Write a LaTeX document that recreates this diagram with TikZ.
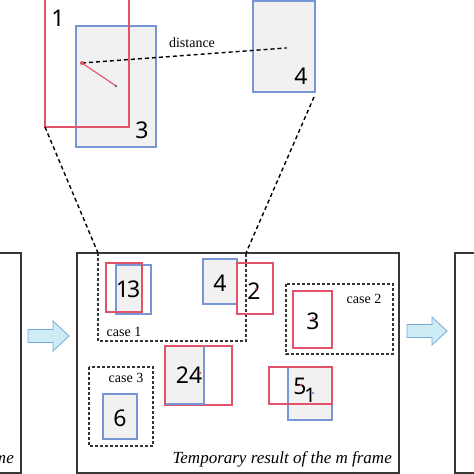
\documentclass[tikz,border=0pt]{standalone}
\usepackage{fontspec}
\setmainfont{Liberation Serif}
\newfontfamily\digitfont{Noto Sans}
\definecolor{rd}{RGB}{226,82,104}
\definecolor{bl}{RGB}{118,150,214}
\definecolor{gf}{RGB}{241,241,241}
\definecolor{fr}{RGB}{55,55,55}
\definecolor{arf}{RGB}{205,236,246}
\definecolor{arl}{RGB}{120,170,215}
\tikzset{
  rbox/.style={draw=rd, line width=1.1pt},
  bbox/.style={draw=bl, line width=1.1pt},
  framebox/.style={draw=fr, line width=1.4pt},
  casebox/.style={draw=black!80, line width=1.2pt, dash pattern=on 3pt off 2pt},
  zoomline/.style={draw=black, line width=1.4pt, dash pattern=on 4pt off 3pt},
  dig/.style={font=\digitfont\fontsize{23}{23}\selectfont, inner sep=0pt},
  smalldig/.style={font=\digitfont\fontsize{20}{20}\selectfont, inner sep=0pt},
  lbl/.style={font=\fontsize{14}{14}\selectfont, inner sep=0pt},
  bigarrow/.style={draw=arl, fill=arf, line width=0.8pt, line join=miter},
  capt/.style={font=\itshape\fontsize{17}{17}\selectfont, anchor=base east, inner sep=0pt},
}
\begin{document}
\begin{tikzpicture}[x=1pt,y=-1pt]
\useasboundingbox (0,0) rectangle (474,474);
\clip (0,0) rectangle (474,474);
% ---------- top zoomed view ----------
\fill[gf] (76,26) rectangle (156,147);
\draw[bbox] (76,26) rectangle (156,147);
\draw[rbox] (45,-5) rectangle (129,127);
\node[dig] (t1) at (58,18) {1};
\node[dig] (t3) at (142,130) {3};
\fill[gf] (253,1) rectangle (315,92);
\draw[bbox] (253,1) rectangle (315,92);
\node[dig] (t4) at (301,76) {4};
\coordinate (rdot) at (82,63);
\coordinate (bdot) at (116,86);
\coordinate (bdot4) at (286,48);
\draw[rd, line width=1.1pt] (rdot) -- (bdot);
\draw[zoomline] (rdot) -- (bdot4);
\fill[rd] (rdot) circle (2pt);
\fill[bl!70!black] (bdot) circle (1.4pt);
\fill[bl!70!black] (bdot4) circle (1.4pt);
\node[lbl] (dist) at (192,43) {distance};
% ---------- frames ----------
\draw[framebox] (-10,253) rectangle (21,473);
\draw[framebox] (77,253) rectangle (399,473);
\draw[framebox] (455,253) rectangle (490,473);
\node[capt] (capl) at (14,463) {frame};
\node[capt] (capm) at (392,463) {Temporary result of the m frame};
% arrows
\draw[bigarrow] (28,329.5) -- (53,329.5) -- (53,321) -- (69,336) -- (53,351) -- (53,342.5) -- (28,342.5) -- cycle;
\draw[bigarrow] (407,324.5) -- (432,324.5) -- (432,317) -- (447,331) -- (432,345) -- (432,337.5) -- (407,337.5) -- cycle;
% ---------- case 1 with zoom lines ----------
\coordinate (zl1) at (45,127);
\coordinate (zr1) at (314,97);
\coordinate (c1tl) at (98,253);
\coordinate (c1tr) at (246,253);
\coordinate (c1bl) at (98,341);
\coordinate (c1br) at (246,341);
\draw[zoomline] (zl1) -- (c1tl);
\draw[zoomline] (zr1) -- (c1tr);
\draw[casebox] (c1tl) -- (c1bl) -- (c1br) -- (c1tr);
\node[lbl] (case1) at (124,332) {case 1};
% 13
\fill[gf] (116,265) rectangle (142,312);
\draw[bbox] (116,265) rectangle (151,314);
\draw[rbox] (106,263) rectangle (142,312);
\node[dig] (n13) at (128,289) {1\kern-2pt3};
% 4 and 2
\fill[gf] (203,259) rectangle (237,304);
\draw[bbox] (203,259) rectangle (237,304);
\draw[rbox] (237,263) rectangle (273,314);
\node[dig] (n4) at (220,283) {4};
\node[dig] (n2) at (254,291) {2};
\fill[rd] (256,289) circle (1.2pt);
% case 2
\draw[casebox] (286,284) rectangle (393,354);
\node[lbl] (case2) at (364,299) {case 2};
\draw[rbox] (293,291) rectangle (332,348);
\node[dig] (n3) at (313,321) {3};
\fill[rd] (313,318) circle (1.2pt);
% 24
\fill[gf] (165,346) rectangle (204,404);
\draw[rbox] (165,346) rectangle (232,405);
\draw[bbox] (204,346) -- (204,404) -- (166,404);
\node[dig] (n24) at (189,375) {24};
\fill[rd] (200,373) circle (1.3pt);
% case 3
\draw[casebox] (89,367) rectangle (153,446);
\node[lbl] (case3) at (126,378) {case 3};
\fill[gf] (103,394) rectangle (137,439);
\draw[bbox] (103,394) rectangle (137,439);
\node[dig] (n6) at (120,418) {6};
% 5 / 1
\fill[gf] (288,367) rectangle (332,420);
\draw[bbox] (288,367) rectangle (332,420);
\draw[rbox] (269,367) rectangle (332,404);
\node[dig] (n5) at (300,386) {5};
\node[smalldig] (n1) at (310,395) {1};
\fill[rd] (301,385) circle (1.3pt);
\fill[bl] (313,393) circle (1.3pt);
\end{tikzpicture}
\end{document}
